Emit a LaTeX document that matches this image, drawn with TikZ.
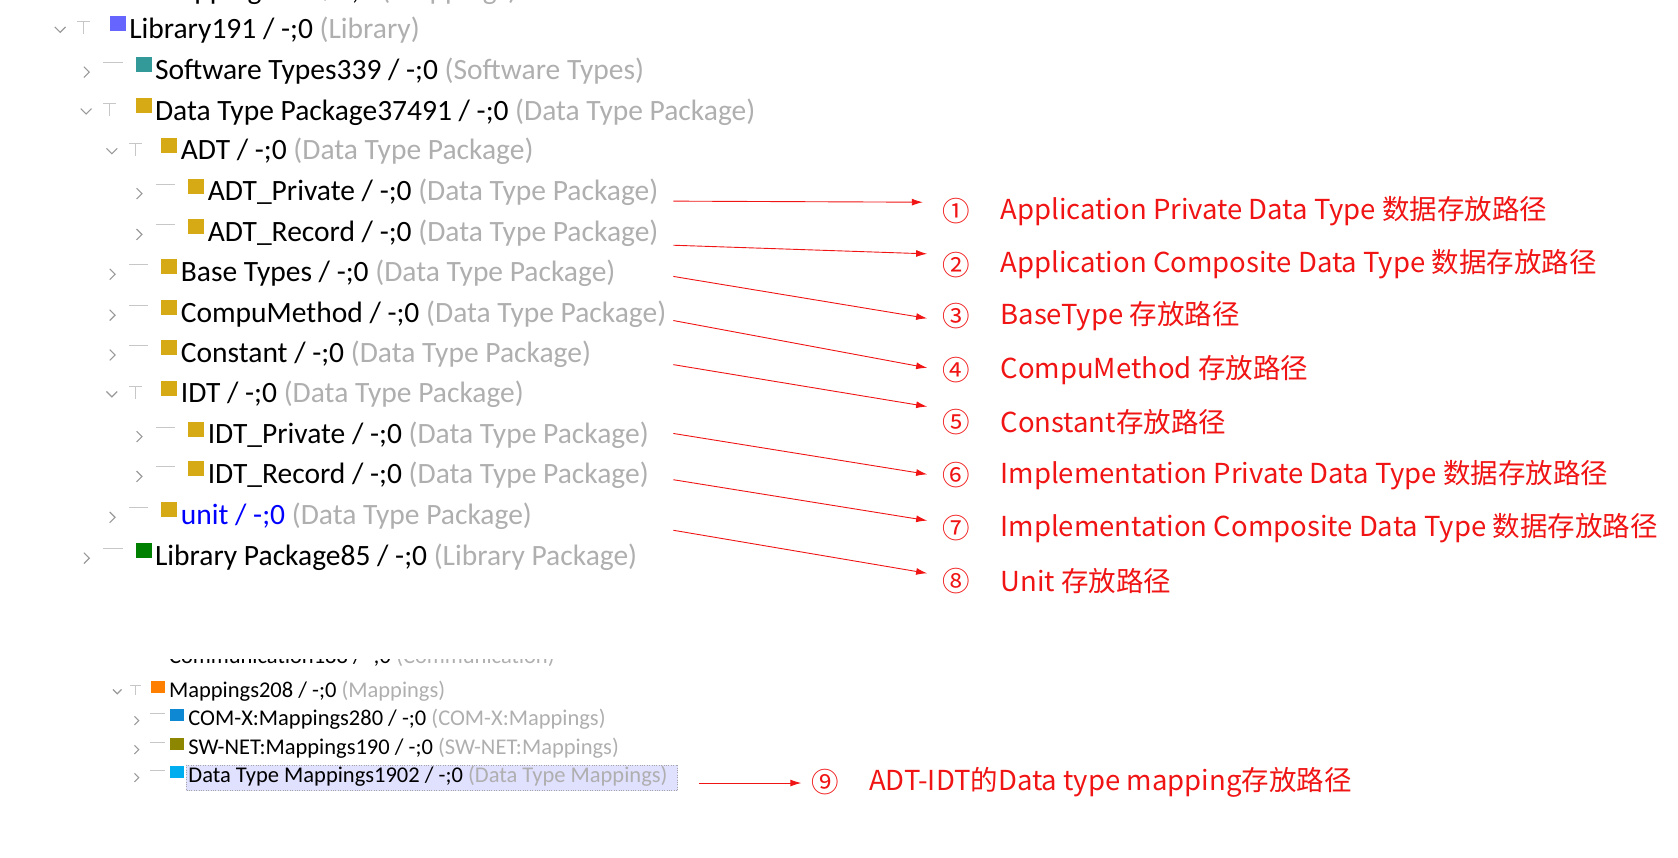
\documentclass[tikz,border=0pt]{standalone}
\usepackage{fontspec}
\setmainfont{Carlito}
\newfontfamily\cjk{Noto Sans CJK SC}
\usetikzlibrary{arrows.meta}
\definecolor{gr}{RGB}{175,175,175}
\definecolor{ar}{RGB}{240,20,20}
\definecolor{fold}{RGB}{214,170,20}
\begin{document}
\begin{tikzpicture}[x=1.0756pt,y=-1.0756pt,
  tree/.style={anchor=west,inner sep=0pt,font=\fontsize{29.5}{31}\selectfont},
  treeb/.style={anchor=west,inner sep=0pt,font=\fontsize{22.5}{24}\selectfont},
  lab/.style={anchor=west,inner sep=0pt,text=ar,font=\cjk\fontsize{27.5}{30}\selectfont},
  arr/.style={draw=ar,line width=0.9pt,-{Latex[length=11pt,width=7pt]}},
  chev/.style={draw=gray!80,line width=1.1pt},
  stub/.style={draw=gr!70,line width=0.8pt}]
\useasboundingbox (0,0) rectangle (1560.1,796.8);
\clip (0,0) rectangle (1560.1,796.8);
\foreach \y/\x/\o/\m/\t/\c/\tc [count=\i] in {
  -8/144/2/{Mappings208 / -;0}/{(Mappings)}/orange/black,
  28/120/1/{Library191 / -;0}/{(Library)}/blue!60/black,
  66/144/0/{Software Types339 / -;0}/{(Software Types)}/teal!80/black,
  104/144/1/{Data Type Package37491 / -;0}/{(Data Type Package)}/fold/black,
  141/168/1/{ADT / -;0}/{(Data Type Package)}/fold/black,
  179/193/0/{ADT\_Private / -;0}/{(Data Type Package)}/fold/black,
  217/193/0/{ADT\_Record / -;0}/{(Data Type Package)}/fold/black,
  254/168/0/{Base Types / -;0}/{(Data Type Package)}/fold/black,
  292/168/0/{CompuMethod / -;0}/{(Data Type Package)}/fold/black,
  329/168/0/{Constant / -;0}/{(Data Type Package)}/fold/black,
  367/168/1/{IDT / -;0}/{(Data Type Package)}/fold/black,
  405/193/0/{IDT\_Private / -;0}/{(Data Type Package)}/fold/black,
  442/193/0/{IDT\_Record / -;0}/{(Data Type Package)}/fold/black,
  480/168/0/{unit / -;0}/{(Data Type Package)}/fold/blue,
  518/144/0/{Library Package85 / -;0}/{(Library Package)}/green!50!black/black} {
  \node[tree,text=\tc] (t\i) at (\x,\y) {\m\ \textcolor{gr}{\t}};
  \fill[\c] (\x-18,\y-13) rectangle (\x-3,\y+1);
  \ifnum\o=1
    \draw[chev] (\x-69,\y-3) -- (\x-64,\y+2) -- (\x-59,\y-3);
    \draw[stub] (\x-48,\y-8) -- (\x-36,\y-8) (\x-42,\y-8) -- (\x-42,\y+4);
  \else
    \draw[chev] (\x-66,\y-4) -- (\x-61,\y+1) -- (\x-66,\y+6);
    \draw[stub] (\x-48,\y-8) -- (\x-30,\y-8);
  \fi
}
\begin{scope}
\clip (0,613) rectangle (1560,797);
\node[treeb] (c0) at (157,611) {Communication188 / -;0 \textcolor{gr}{(Communication)}};
\end{scope}
\fill[blue!12] (173,711) rectangle (630,735);
\draw[gray!70,dotted] (173,711) rectangle (630,735);
\foreach \y/\x/\o/\m/\t/\c [count=\i] in {
  643/157/1/{Mappings208 / -;0}/{(Mappings)}/orange,
  669/175/0/{COM-X:Mappings280 / -;0}/{(COM-X:Mappings)}/cyan!70!blue,
  696/175/0/{SW-NET:Mappings190 / -;0}/{(SW-NET:Mappings)}/olive,
  722/175/0/{Data Type Mappings1902 / -;0}/{(Data Type Mappings)}/cyan} {
  \node[treeb] (b\i) at (\x,\y) {\m\ \textcolor{gr}{\t}};
  \fill[\c] (\x-17,\y-10) rectangle (\x-4,\y+1);
  \ifnum\o=1
    \draw[chev] (\x-52,\y-2) -- (\x-48,\y+2) -- (\x-44,\y-2);
    \draw[stub] (\x-36,\y-6) -- (\x-26,\y-6) (\x-31,\y-6) -- (\x-31,\y+3);
  \else
    \draw[chev] (\x-50,\y-3) -- (\x-46,\y+1) -- (\x-50,\y+5);
    \draw[stub] (\x-36,\y-6) -- (\x-22,\y-6);
  \fi
}
\foreach \y/\n/\s [count=\i] in {
  196/①/{Application Private Data Type 数据存放路径},
  246/②/{Application Composite Data Type 数据存放路径},
  294/③/{BaseType 存放路径},
  344/④/{CompuMethod 存放路径},
  392/⑤/{Constant存放路径},
  442/⑥/{Implementation Private Data Type 数据存放路径},
  491/⑦/{Implementation Composite Data Type 数据存放路径},
  540/⑧/{Unit 存放路径}} {
  \node[lab] (n\i) at (876,\y) {\n};
  \node[lab] (l\i) at (930,\y) {\s};
}
\node[lab] (n9) at (754,727) {⑨};
\node[lab] (l9) at (808,727) {ADT-IDT的Data type mapping存放路径};
\foreach \a/\b/\c/\d [count=\i] in {
  187/858/188/1, 228/862/236/2, 257/862/296/3, 298/862/342/4,
  339/862/378/5, 403/862/441/6, 446/862/484/7, 493/862/533/8} {
  \coordinate (s\i) at (626,\a);
  \coordinate (e\i) at (\b,\c);
  \draw[arr] (s\i) -- (e\i);
}
\coordinate (s9) at (650,728);
\coordinate (e9) at (745,728);
\draw[arr] (s9) -- (e9);
\end{tikzpicture}
\end{document}
